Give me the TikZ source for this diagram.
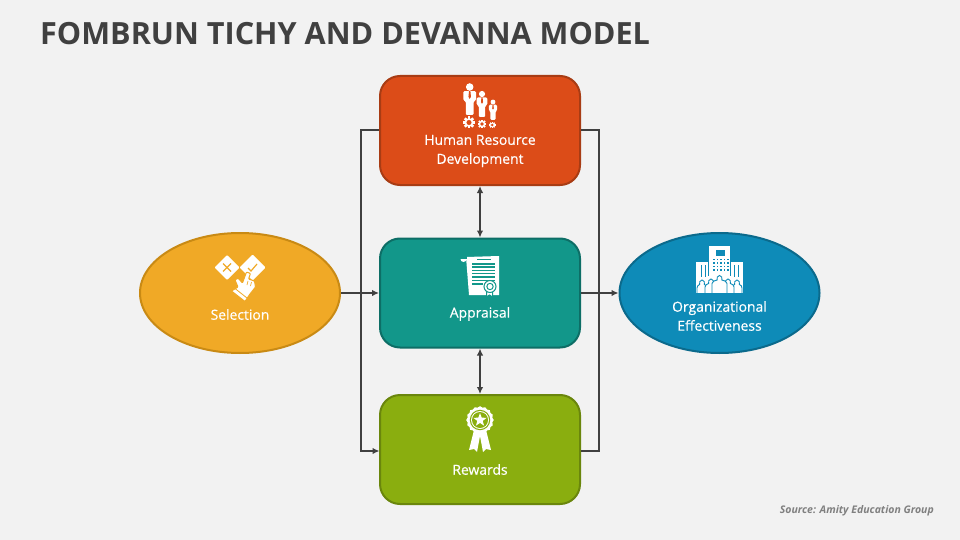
\documentclass[tikz,border=0pt]{standalone}
\usepackage{fontspec}
\setmainfont{Open Sans}
\newfontfamily\lblfont[FakeBold=0.5]{Open Sans}
\usetikzlibrary{arrows.meta,shapes.geometric,calc}
\definecolor{bgc}{HTML}{F2F2F2}
\definecolor{ink}{HTML}{404040}
\definecolor{hrc}{HTML}{DC4C18}\definecolor{hrd}{HTML}{A83C14}
\definecolor{apc}{HTML}{12978A}\definecolor{apd}{HTML}{0D6E66}
\definecolor{rwc}{HTML}{8AAE0F}\definecolor{rwd}{HTML}{6A860C}
\definecolor{slc}{HTML}{F0A926}\definecolor{sld}{HTML}{C98A14}
\definecolor{orc}{HTML}{0E8BB8}\definecolor{ord}{HTML}{0B6A8C}
\tikzset{
  boxshape/.style={draw=#1,line width=2pt,rounded corners=20pt,minimum width=200pt,minimum height=109pt,inner sep=0pt},
  ovalshape/.style={ellipse,draw=#1,line width=2pt,minimum width=200pt,minimum height=120pt,inner sep=0pt},
  lbl/.style={text=white,font=\lblfont\fontsize{13.9}{19}\selectfont,align=center,inner sep=0pt},
  conn/.style={draw=ink,line width=2pt},
  head/.style={-{Latex[length=7pt,width=6.5pt]}},
  both/.style={{Latex[length=7pt,width=6.5pt]}-{Latex[length=7pt,width=6.5pt]}},
  gearicon/.pic={\fill[white] (0,0) circle (0.72);
    \foreach \a in {0,45,...,315}{\fill[white,rotate=\a] (-0.22,0.6) rectangle (0.22,1);}
    \fill[hrc] (0,0) circle (0.42);},
  manicon/.pic={\fill[white] (0,-1.0) circle (0.27);
    \fill[white,rounded corners=1.2pt] (-0.46,-0.7) -- (0.46,-0.7) -- (0.46,-0.05) -- (0.28,0.02) -- (0.28,1) -- (-0.28,1) -- (-0.28,0.02) -- (-0.46,-0.05) -- cycle;
    \fill[hrc] (-0.05,-0.7) -- (0.05,-0.7) -- (0.09,-0.3) -- (0,-0.15) -- (-0.09,-0.3) -- cycle;}
}
\begin{document}
\begin{tikzpicture}[x=1pt,y=-1pt]
\useasboundingbox (0,0) rectangle (960,540);
\fill[bgc] (0,0) rectangle (960,540);

% title and source
\node[anchor=base west,inner sep=0pt,text=ink,font=\fontsize{30.6}{36}\selectfont\bfseries] (title) at (40,45) {FOMBRUN TICHY AND DEVANNA MODEL};
\node[anchor=base east,inner sep=0pt,text=black!50,font=\fontsize{10.5}{12}\selectfont\bfseries\itshape] (src) at (934,513.5) {Source: Amity Education Group};

% shapes
\node[boxshape=hrd,fill=hrc] (hr) at (480,130.5) {};
\node[boxshape=apd,fill=apc] (ap) at (480,293) {};
\node[boxshape=rwd,fill=rwc] (rw) at (480,449.5) {};
\node[ovalshape=sld,fill=slc] (sl) at (240,293) {};
\node[ovalshape=ord,fill=orc] (or) at (719.5,293) {};

% connectors
\coordinate (rwl) at (379.5,451);
\coordinate (rwr) at (580.5,451);
\coordinate (trl) at (361,130.5);
\coordinate (trr) at (599,130.5);
\draw[conn,head] (hr.west) -- (trl) |- (rwl);
\draw[conn] (hr.east) -- (trr) |- (rwr);
\draw[conn,head] (sl.east) -- (ap.west);
\draw[conn,head] (ap.east) -- (or.west);
\draw[conn,both] (hr.south) -- (ap.north);
\draw[conn,both] (ap.south) -- (rw.north);

% labels
\node[lbl] (hrt) at (480,151) {Human Resource\\Development};
\node[lbl] (apt) at (480,314) {Appraisal};
\node[lbl] (rwt) at (480,469.5) {Rewards};
\node[lbl] (slt) at (240,314.5) {Selection};
\node[lbl] (ort) at (719.5,316) {Organizational\\Effectiveness};

% HR icon
\path (469.7,101) pic[scale=14,x=1pt,y=-1pt] {manicon};
\path (482,105.5) pic[scale=11.5,x=1pt,y=-1pt] {manicon};
\path (493,111) pic[scale=9,x=1pt,y=-1pt] {manicon};
\path (469,122.5) pic[scale=6,x=1pt,y=1pt] {gearicon};
\path (482,124) pic[scale=4.3,x=1pt,y=1pt] {gearicon};
\path (492.3,125) pic[scale=3.2,x=1pt,y=1pt] {gearicon};

% Selection icon
\fill[white,rounded corners=1pt] (227,255) -- (239.5,267.5) -- (227,280) -- (214.5,267.5) -- cycle;
\fill[white,rounded corners=1pt] (252.5,254.5) -- (265.5,267.5) -- (252.5,280.5) -- (239.5,267.5) -- cycle;
\draw[slc,line width=1.2pt] (223,263.5) -- (231,271.5) (231,263.5) -- (223,271.5);
\draw[slc,line width=1.2pt] (248,268) -- (251,271) -- (257,264);
\fill[white,draw=slc,line width=1pt,line join=round,rounded corners=0.8pt]
 (246.5,272) -- (250.5,273.5) -- (248.5,279) -- (254.5,281) -- (255.5,287) -- (250,294) -- (245,301.5) -- (231.5,291) -- (238,287)
 -- (235,280) -- (238,278) -- (242.5,283) -- cycle;
\draw[slc,line width=0.7pt] (248,281) -- (247,285) (251.5,282) -- (250.5,286);
\draw[slc,line width=0.8pt] (235,288.5) -- (247,298);

% Appraisal icon
\fill[white] (466,257) -- (499,256) -- (499,295) -- (469,295) -- cycle;
\fill[white] (460.5,259) arc (180:0:3) -- cycle;
\fill[apc] (465.5,256) rectangle (466.8,259);
\fill[apc] (476.5,258.5) rectangle (491,260);
\foreach \yy in {263,266.3,269.6,272.9,276.2,279.5} {\fill[apc] (471.5,\yy) rectangle (495,\yy+1.5);}
\fill[apc] (471.5,283) rectangle (483,284.5);
\fill[white,draw=apc,line width=1pt] (486.5,289.5) -- (486.5,297) -- (489.5,295) -- (492.5,297) -- (492.5,289.5) -- cycle;
\fill[white,draw=apc,line width=1pt] (490,286.5) circle (6);
\fill[apc] (490,286.5) circle (3.7);
\fill[white] (490,286.5) circle (2.5);

% Organization icon
\fill[white] (696,262) rectangle (743,293);
\fill[white] (709,246) rectangle (730,280);
\fill[orc] (707.6,262) rectangle (709,276);
\fill[orc] (730,262) rectangle (731.4,276);
\fill[orc] (715.5,250) rectangle (725,255.5);
\foreach \xx in {700.5,704.5,734,738} {\fill[orc] (\xx,265) rectangle (\xx+1.3,277);}
\foreach \xx in {713,716.6,720.2,723.8,727.4}{
  \foreach \yy in {258.5,262,265.5,269}{\fill[orc] (\xx,\yy) rectangle (\xx+1.6,\yy+1.6);}}
\foreach \cx/\cy/\sw in {702/280/5,737/280/5,711/279/6,728/279/6,719.5/275.5/7.5}{
  \fill[white,draw=orc,line width=0.9pt] (\cx-\sw,294) -- (\cx-\sw,\cy+8) to[out=90,in=200] (\cx-2.4,\cy+4.5) to[out=110,in=180] (\cx,\cy) to[out=0,in=70] (\cx+2.4,\cy+4.5) to[out=-20,in=90] (\cx+\sw,\cy+8) -- (\cx+\sw,294);
}
\fill[orc] (690,293) rectangle (750,296);

% Rewards icon
\fill[white] (474,430) -- (469,450) -- (474,449) -- (477,452) -- (480,436) -- (483,452) -- (486,449) -- (491,450) -- (486,430) -- cycle;
\fill[white] plot[samples=33,domain=0:360,smooth cycle,variable=\t] ({480+(13.2+0.6*cos(16*\t))*cos(\t)},{420-(13.2+0.6*cos(16*\t))*sin(\t)});
\fill[rwc] (480,420) circle (10.2);
\fill[white] (480,420) circle (9);
\fill[rwc] (480,420) circle (8);
\fill[white] (480,413) -- (481.7,417.7) -- (486.7,417.8) -- (482.7,420.9) -- (484.1,425.7) -- (480,422.9) -- (475.9,425.7) -- (477.3,420.9) -- (473.3,417.8) -- (478.3,417.7) -- cycle;
\end{tikzpicture}
\end{document}
